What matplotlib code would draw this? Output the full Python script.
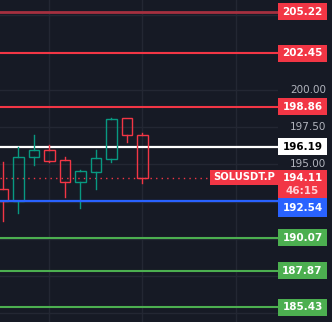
import matplotlib.pyplot as plt
from matplotlib.patches import Rectangle

# candles (open, high, low, close)
opens = [193.33, 192.56, 195.47, 195.94, 195.27, 193.80, 194.51, 195.38, 198.09, 196.97]
highs = [195.14, 196.19, 196.97, 196.30, 195.52, 194.62, 195.96, 198.11, 198.11, 197.10]
lows = [191.20, 191.76, 194.96, 195.16, 192.83, 192.09, 193.37, 195.16, 196.50, 193.77]
closes = [192.54, 195.47, 195.94, 195.25, 193.80, 194.56, 195.41, 198.04, 196.99, 194.11]

# horizontal levels
red_levels = [202.45, 198.86]
far_level = 205.22
white_level = 196.19
blue_level = 192.54
green_levels = [190.07, 187.87, 185.43]
last_price = 194.11
countdown = "46:15"
symbol = "SOLUSDT.P"
tick_values = [200.00, 197.50, 195.00, 187.50, 185.00]

bg = "#161a25"
grid = "#232733"
up = "#089981"
down = "#f23645"
red = "#f23645"
green = "#4caf50"
blue = "#2962ff"

ymin, ymax = 184.43, 206.02
W, H = 332, 322
fig = plt.figure(figsize=(W / 100, H / 100), dpi=100, facecolor=bg)
ax = fig.add_axes([0, 0, 278 / W, 1], facecolor=bg)
ax.set_xlim(-0.19, 17.74)
ax.set_ylim(ymin, ymax)
for s in ax.spines.values():
    s.set_visible(False)
ax.set_xticks([])
ax.set_yticks([])

for g in [3, 9, 15]:
    ax.axvline(g, color=grid, lw=1, zorder=0)
for g in [205, 202.5, 200, 197.5, 195, 192.5, 190, 187.5, 185]:
    ax.axhline(g, color=grid, lw=1, zorder=0)

# levels
ax.axhline(far_level, color="#a5303f", lw=2, zorder=2)
for lv in red_levels:
    ax.axhline(lv, color=red, lw=1.5, zorder=2)
ax.axhline(white_level, color="white", lw=1.6, zorder=2)
ax.axhline(blue_level, color=blue, lw=1.6, zorder=4)
for lv in green_levels:
    ax.axhline(lv, color=green, lw=1.5, zorder=2)
ax.plot([-0.19, 17.74], [last_price, last_price], color=red, lw=1,
        ls=(0, (1, 3)), zorder=1)

# hollow candles
bw = 0.7
for i, (o, h, l, c) in enumerate(zip(opens, highs, lows, closes)):
    col = up if c >= o else down
    top, bot = max(o, c), min(o, c)
    ax.plot([i, i], [top, h], color=col, lw=1, zorder=3)
    ax.plot([i, i], [l, bot], color=col, lw=1, zorder=3)
    ax.add_patch(Rectangle((i - bw / 2, bot), bw, top - bot, facecolor="none",
                           edgecolor=col, lw=1, zorder=3))

# symbol label
ax.text(17.55, last_price + 0.02, symbol, ha="right", va="center", color="white",
        fontsize=7.2, fontweight="bold",
        bbox=dict(boxstyle="square,pad=0.28", fc=red, ec="none"), zorder=5)

# price scale
px = 1 / 14.91
sc = fig.add_axes([278 / W, 0, 54 / W, 1], facecolor=bg)
sc.set_xlim(0, 54)
sc.set_ylim(ymin, ymax)
sc.axis("off")
for t in tick_values:
    sc.text(48, t, f"{t:.2f}", ha="right", va="center", color="#b2b5be",
            fontsize=7.5, zorder=1)


def box(v, fc, tc, h=17, shift=0.0):
    c = v - shift * px
    sc.add_patch(Rectangle((0, c - h * px / 2), 49, h * px, fc=fc, ec="none", zorder=3))
    sc.text(24.5, c, f"{v:.2f}", ha="center", va="center", color=tc,
            fontsize=7.5, fontweight="bold", zorder=4)


box(far_level, red, "white")
for lv in red_levels:
    box(lv, red, "white")
box(white_level, "white", "black")
for lv in green_levels:
    box(lv, green, "white")
# last price with countdown
sc.add_patch(Rectangle((0, last_price - 20 * px), 49, 28 * px, fc=red, ec="none", zorder=3))
sc.text(24.5, last_price, f"{last_price:.2f}", ha="center", va="center",
        color="white", fontsize=7.5, fontweight="bold", zorder=4)
sc.text(24.5, last_price - 13 * px, countdown, ha="center", va="center",
        color="#ffd0d5", fontsize=7.5, fontweight="bold", zorder=4)
# blue label pushed down below the last-price label
box(blue_level, blue, "white", h=19, shift=6.8)

fig.savefig("out.png", dpi=100, facecolor=bg)
